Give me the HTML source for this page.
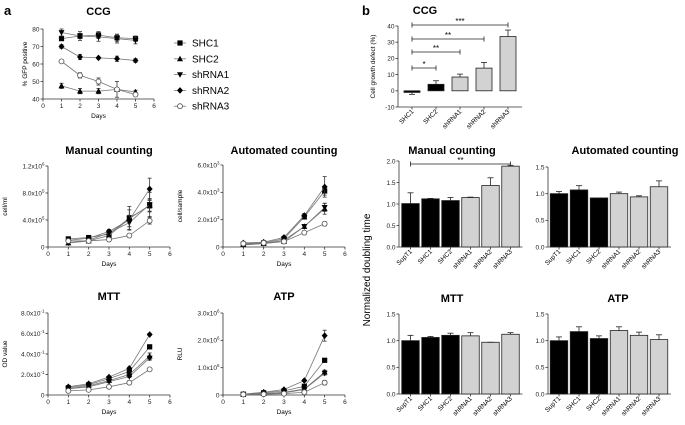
<!DOCTYPE html>
<html><head><meta charset="utf-8"><style>
html,body{margin:0;padding:0;background:#fff}
svg{display:block;font-family:"Liberation Sans",Arial,sans-serif}
</style></head><body>
<svg id="fig" width="685" height="425" viewBox="0 0 685 425" xmlns="http://www.w3.org/2000/svg">
<text x="4" y="15" font-size="13" font-weight="bold">a</text>
<text x="362" y="15" font-size="13" font-weight="bold">b</text>
<text transform="translate(370,270) rotate(-90)" text-anchor="middle" font-size="10">Normalized doubling time</text>
</svg>
<script>
const days = [1,2,3,4,5];
const seriesNames = ["SHC1","SHC2","shRNA1","shRNA2","shRNA3"];
const ccgVals = [[74.5,76,76.5,75,74.5],[47.5,44.5,44.5,45.5,44],[78,76,75.5,74.5,73.5],[70,64,63.5,63,62],[61.5,53.5,50,45.5,42.5]];
const ccgErr = [[1,2.5,2,2,1.5],[1.5,1.5,1.5,4.5,1],[2,1.5,2.5,2.5,2],[1,1.5,0.5,1.5,1],[0.5,1.5,2,1,1]];
const manVals = [[1.2,1.4,1.9,4.3,6.1],[0.6,0.9,1.7,4.2,6.2],[0.6,1.0,2.1,3.6,6.3],[1.0,1.3,2.3,4.0,8.6],[0.9,0.9,1.1,1.7,3.9]];
const manErr = [[0.2,0.2,0.3,1.7,0.8],[0.1,0.2,0.3,0.5,1.0],[0.1,0.2,0.3,0.6,1.8],[0.2,0.2,0.3,1.5,1.6],[0.1,0.1,0.2,0.2,0.5]];
const autoVals = [[0.2,0.3,0.6,2.2,4.1],[0.2,0.25,0.4,1.5,2.8],[0.15,0.25,0.5,1.5,2.9],[0.3,0.35,0.7,2.3,4.4],[0.25,0.3,0.4,1.05,1.7]];
const autoErr = [[0.05,0.05,0.1,0.15,0.3],[0.05,0.05,0.05,0.15,0.4],[0.05,0.05,0.05,0.1,0.3],[0.05,0.05,0.1,0.15,0.75],[0.05,0.05,0.05,0.05,0.15]];
const mttVals = [[0.7,1.0,1.6,2.3,4.7],[0.6,0.9,1.4,2.0,3.8],[0.6,0.8,1.3,1.8,3.6],[0.8,1.1,1.75,2.6,5.9],[0.4,0.5,0.8,1.2,2.5]];
const mttErr = [[0.1,0.1,0.15,0.1,0.1],[0.1,0.1,0.1,0.1,0.3],[0.1,0.1,0.1,0.1,0.2],[0.1,0.1,0.1,0.1,0.1],[0.05,0.05,0.05,0.05,0.05]];
const atpVals = [[0.03,0.08,0.15,0.32,1.27],[0.02,0.05,0.1,0.22,0.84],[0.02,0.04,0.08,0.2,0.8],[0.03,0.1,0.2,0.53,2.17],[0.02,0.03,0.05,0.1,0.45]];
const atpErr = [[0.02,0.02,0.03,0.03,0.07],[0.01,0.02,0.02,0.03,0.07],[0.01,0.02,0.02,0.03,0.07],[0.02,0.02,0.03,0.03,0.2],[0.01,0.01,0.02,0.02,0.08]];
const barCats5 = ["SHC1","SHC2","shRNA1","shRNA2","shRNA3"];
const barCats6 = ["SupT1","SHC1","SHC2","shRNA1","shRNA2","shRNA3"];
const ccgBarVals = [-1,4,8.5,14,33.5];
const ccgBarErr = [1.2,2.2,1.8,3.5,4];
const manBarVals = [1.01,1.12,1.08,1.15,1.43,1.88];
const manBarErr = [0.25,0.01,0.07,0.01,0.18,0.02];
const autoBarVals = [1.0,1.07,0.92,1.0,0.94,1.13];
const autoBarErr = [0.04,0.08,0.0,0.03,0.02,0.11];
const mttBarVals = [1.0,1.06,1.1,1.09,0.97,1.12];
const mttBarErr = [0.1,0.02,0.04,0.06,0.0,0.03];
const atpBarVals = [1.0,1.17,1.04,1.19,1.1,1.02];
const atpBarErr = [0.07,0.09,0.05,0.07,0.06,0.09];

const NS="http://www.w3.org/2000/svg";
const svg=document.getElementById('fig');
function el(tag,attrs,parent,text){const e=document.createElementNS(NS,tag);for(const k in attrs)e.setAttribute(k,attrs[k]);if(text!==undefined)e.textContent=text;(parent||svg).appendChild(e);return e;}
function tickLabel(g,x,y,lab,anchor){
  const t=el('text',{x:x,y:y,'font-size':6.5,'text-anchor':anchor,fill:'#222'},g);
  
  
  if(typeof lab==='object'){el('tspan',{},t,lab.base);el('tspan',{'font-size':4.5,dy:-3},t,lab.sup);}
  else t.textContent=lab;
}
function marker(g,kind,x,y){
  let m;
  if(kind===0)m=el('rect',{x:x-2.6,y:y-2.6,width:5.2,height:5.2,fill:'#000'},g);
  else if(kind===1)m=el('polygon',{points:`${x},${y-3.2} ${x-3},${y+2.4} ${x+3},${y+2.4}`,fill:'#000'},g);
  else if(kind===2)m=el('polygon',{points:`${x},${y+3.2} ${x-3},${y-2.4} ${x+3},${y-2.4}`,fill:'#000'},g);
  else if(kind===3)m=el('polygon',{points:`${x},${y-3.3} ${x+3},${y} ${x},${y+3.3} ${x-3},${y}`,fill:'#000'},g);
  else m=el('circle',{cx:x,cy:y,r:2.5,fill:'#fff',stroke:'#555','stroke-width':0.8},g);
  return m;
}
function lineChart(o){
  const g=el('g',{});
  
  
  const sx=d=>o.x0+d*o.dx;
  const sy=v=>o.y0-(v-o.vmin)/(o.vmax-o.vmin)*(o.y0-o.yTop);
  el('line',{x1:o.x0,y1:o.y0,x2:o.x0,y2:o.yTop,stroke:'#333','stroke-width':0.8},g);
  el('line',{x1:o.x0,y1:o.y0,x2:sx(6),y2:o.y0,stroke:'#333','stroke-width':0.8},g);
  for(let d=0;d<=6;d++){el('line',{x1:sx(d),y1:o.y0,x2:sx(d),y2:o.y0+2.5,stroke:'#333','stroke-width':0.8},g);tickLabel(g,sx(d),o.y0+9,String(d),'middle');}
  o.yticks.forEach((v,i)=>{el('line',{x1:o.x0-2.5,y1:sy(v),x2:o.x0,y2:sy(v),stroke:'#333','stroke-width':0.8},g);tickLabel(g,o.x0-3.5,sy(v)+2.3,o.ylabs[i],'end');});
  const t=el('text',{x:(o.x0+sx(6))/2,y:o.titleY,'font-size':11,'font-weight':'bold','text-anchor':'middle'},g,o.title);
  
  const xl=el('text',{x:sx(3),y:o.y0+19,'font-size':6.5,'text-anchor':'middle'},g,'Days');
  
  const yl=el('text',{transform:`translate(${o.ylx},${(o.y0+o.yTop)/2}) rotate(-90)`,'font-size':6.5,'text-anchor':'middle'},g,o.ylabel);
  
  o.vals.forEach((ser,si)=>{
    const pts=ser.map((v,i)=>`${sx(days[i])},${sy(v)}`).join(' ');
    const pl=el('polyline',{points:pts,fill:'none',stroke:'#777','stroke-width':0.8},g);
    
    
    ser.forEach((v,i)=>{
      const e=o.err[si][i],x=sx(days[i]);
      el('line',{x1:x,y1:sy(v-e),x2:x,y2:sy(v+e),stroke:'#333','stroke-width':0.8},g);
      el('line',{x1:x-2,y1:sy(v-e),x2:x+2,y2:sy(v-e),stroke:'#333','stroke-width':0.8},g);
      el('line',{x1:x-2,y1:sy(v+e),x2:x+2,y2:sy(v+e),stroke:'#333','stroke-width':0.8},g);
      const m=marker(g,si,x,sy(v));
      
      
    });
  });
}
function barChart(o){
  const g=el('g',{});
  
  
  const sy=v=>o.y0-(v-o.vmin)/(o.vmax-o.vmin)*(o.y0-o.yTop);
  const cx=i=>o.c0+i*o.step;
  const right=cx(o.cats.length-1)+o.step/2+2;
  el('line',{x1:o.xa,y1:o.y0,x2:o.xa,y2:o.yTop,stroke:'#333','stroke-width':0.8},g);
  el('line',{x1:o.xa,y1:o.y0,x2:right,y2:o.y0,stroke:'#333','stroke-width':0.8},g);
  o.yticks.forEach(v=>{el('line',{x1:o.xa-2.5,y1:sy(v),x2:o.xa,y2:sy(v),stroke:'#333','stroke-width':0.8},g);tickLabel(g,o.xa-3.5,sy(v)+2.3,o.fmt(v),'end');});
  const base=sy(Math.max(0,o.vmin));
  o.vals.forEach((v,i)=>{
    const x=cx(i),e=o.err[i];
    const top=Math.min(sy(v),base),h=Math.abs(sy(v)-base);
    const r=el('rect',{x:x-o.bw/2,y:top,width:o.bw,height:Math.max(h,0.8),fill:o.colors[i],stroke:'#222','stroke-width':0.8},g);
    
    
    const ye=v>=0?sy(v+e):sy(v-e);
    el('line',{x1:x,y1:sy(v),x2:x,y2:ye,stroke:'#222','stroke-width':0.8},g);
    el('line',{x1:x-3,y1:ye,x2:x+3,y2:ye,stroke:'#222','stroke-width':0.8},g);
    el('line',{x1:x,y1:o.y0,x2:x,y2:o.y0+2.5,stroke:'#333','stroke-width':0.8},g);
    const t=el('text',{transform:`translate(${x+2},${o.y0+5}) rotate(-45)`,'font-size':6.5,'text-anchor':'end'},g,o.cats[i]);
    
  });
  const t=el('text',{x:o.titleX,y:o.titleY,'font-size':11,'font-weight':'bold','text-anchor':'middle'},g,o.title);
  
  if(o.ylabel){const yl=el('text',{transform:`translate(${o.ylx},${(o.y0+o.yTop)/2}) rotate(-90)`,'font-size':6.5,'text-anchor':'middle'},g,o.ylabel);
    }
  (o.sig||[]).forEach(s=>{
    const y=s.y,x1=cx(s.a),x2=cx(s.b);
    el('line',{x1:x1,y1:y,x2:x2,y2:y,stroke:'#222','stroke-width':0.8},g);
    el('line',{x1:x1,y1:y-2.5,x2:x1,y2:y+2.5,stroke:'#222','stroke-width':0.8},g);
    el('line',{x1:x2,y1:y-2.5,x2:x2,y2:y+2.5,stroke:'#222','stroke-width':0.8},g);
    const st=el('text',{x:(x1+x2)/2,y:y-1,'font-size':8,'text-anchor':'middle'},g,s.t);
    
  });
}
const sup=(b,s)=>({base:b,sup:s});
lineChart({name:'ccg-line-chart',title:'CCG',titleY:15,x0:43,dx:18.5,y0:99,yTop:29,vmin:40,vmax:80,yticks:[40,50,60,70,80],ylabs:['40','50','60','70','80'],vals:ccgVals,err:ccgErr,ylabel:'% GFP positive',ylx:27});
lineChart({name:'manual-counting-line-chart',title:'Manual counting',titleY:154,x0:48,dx:20.33,y0:247,yTop:166,vmin:0,vmax:12,yticks:[0,4,8,12],ylabs:['0',sup('4.0x10','5'),sup('8.0x10','5'),sup('1.2x10','6')],vals:manVals,err:manErr,ylabel:'cell/ml',ylx:7});
lineChart({name:'automated-counting-line-chart',title:'Automated counting',titleY:154,x0:223,dx:20.33,y0:247,yTop:165,vmin:0,vmax:6,yticks:[0,2,4,6],ylabs:['0',sup('2.0x10','3'),sup('4.0x10','3'),sup('6.0x10','3')],vals:autoVals,err:autoErr,ylabel:'cell/sample',ylx:182});
lineChart({name:'mtt-line-chart',title:'MTT',titleY:300,x0:48,dx:20.33,y0:395,yTop:313,vmin:0,vmax:8,yticks:[0,2,4,6,8],ylabs:['0',sup('2.0x10','-1'),sup('4.0x10','-1'),sup('6.0x10','-1'),sup('8.0x10','-1')],vals:mttVals,err:mttErr,ylabel:'OD value',ylx:7});
lineChart({name:'atp-line-chart',title:'ATP',titleY:300,x0:223,dx:20.33,y0:395,yTop:313,vmin:0,vmax:3,yticks:[0,1,2,3],ylabs:['0',sup('1.0x10','6'),sup('2.0x10','6'),sup('3.0x10','6')],vals:atpVals,err:atpErr,ylabel:'RLU',ylx:182});
const lg=el('g',{});


seriesNames.forEach((n,i)=>{
  const y=43+i*15.8;
  el('line',{x1:174,y1:y,x2:186,y2:y,stroke:'#777','stroke-width':0.8},lg);
  const m=marker(lg,i,180,y);
  const t=el('text',{x:192,y:y+3.5,'font-size':10},lg,n);
  
  
});
const BLK='#000',GRY='#d2d2d2';
barChart({name:'ccg-bar-chart',title:'CCG',titleX:425,titleY:14,xa:398,y0:107,yTop:26,vmin:-10,vmax:40,yticks:[-10,0,10,20,30,40],fmt:v=>String(v),cats:barCats5,vals:ccgBarVals,err:ccgBarErr,c0:412,step:24,bw:16,colors:[BLK,BLK,GRY,GRY,GRY],ylabel:'Cell growth defect (%)',ylx:375,
  sig:[{a:0,b:4,y:25,t:'***'},{a:0,b:3,y:39,t:'**'},{a:0,b:2,y:52,t:'**'},{a:0,b:1,y:68,t:'*'}]});
const f1=v=>v.toFixed(1);
barChart({name:'manual-counting-bar-chart',title:'Manual counting',titleX:452,titleY:154,xa:399,y0:247,yTop:161,vmin:0,vmax:2,yticks:[0,0.5,1,1.5,2],fmt:f1,cats:barCats6,vals:manBarVals,err:manBarErr,c0:410.5,step:20,bw:17.5,colors:[BLK,BLK,BLK,GRY,GRY,GRY],sig:[{a:0,b:5,y:164,t:'**'}]});
barChart({name:'automated-counting-bar-chart',title:'Automated counting',titleX:625,titleY:154,xa:548,y0:247,yTop:167,vmin:0,vmax:1.5,yticks:[0,0.5,1,1.5],fmt:f1,cats:barCats6,vals:autoBarVals,err:autoBarErr,c0:559,step:20,bw:17.5,colors:[BLK,BLK,BLK,GRY,GRY,GRY]});
barChart({name:'mtt-bar-chart',title:'MTT',titleX:452,titleY:302,xa:399,y0:394,yTop:314,vmin:0,vmax:1.5,yticks:[0,0.5,1,1.5],fmt:f1,cats:barCats6,vals:mttBarVals,err:mttBarErr,c0:410.5,step:20,bw:17.5,colors:[BLK,BLK,BLK,GRY,GRY,GRY]});
barChart({name:'atp-bar-chart',title:'ATP',titleX:618,titleY:302,xa:548,y0:394,yTop:314,vmin:0,vmax:1.5,yticks:[0,0.5,1,1.5],fmt:f1,cats:barCats6,vals:atpBarVals,err:atpBarErr,c0:559,step:20,bw:17.5,colors:[BLK,BLK,BLK,GRY,GRY,GRY]});
</script>
</body></html>
